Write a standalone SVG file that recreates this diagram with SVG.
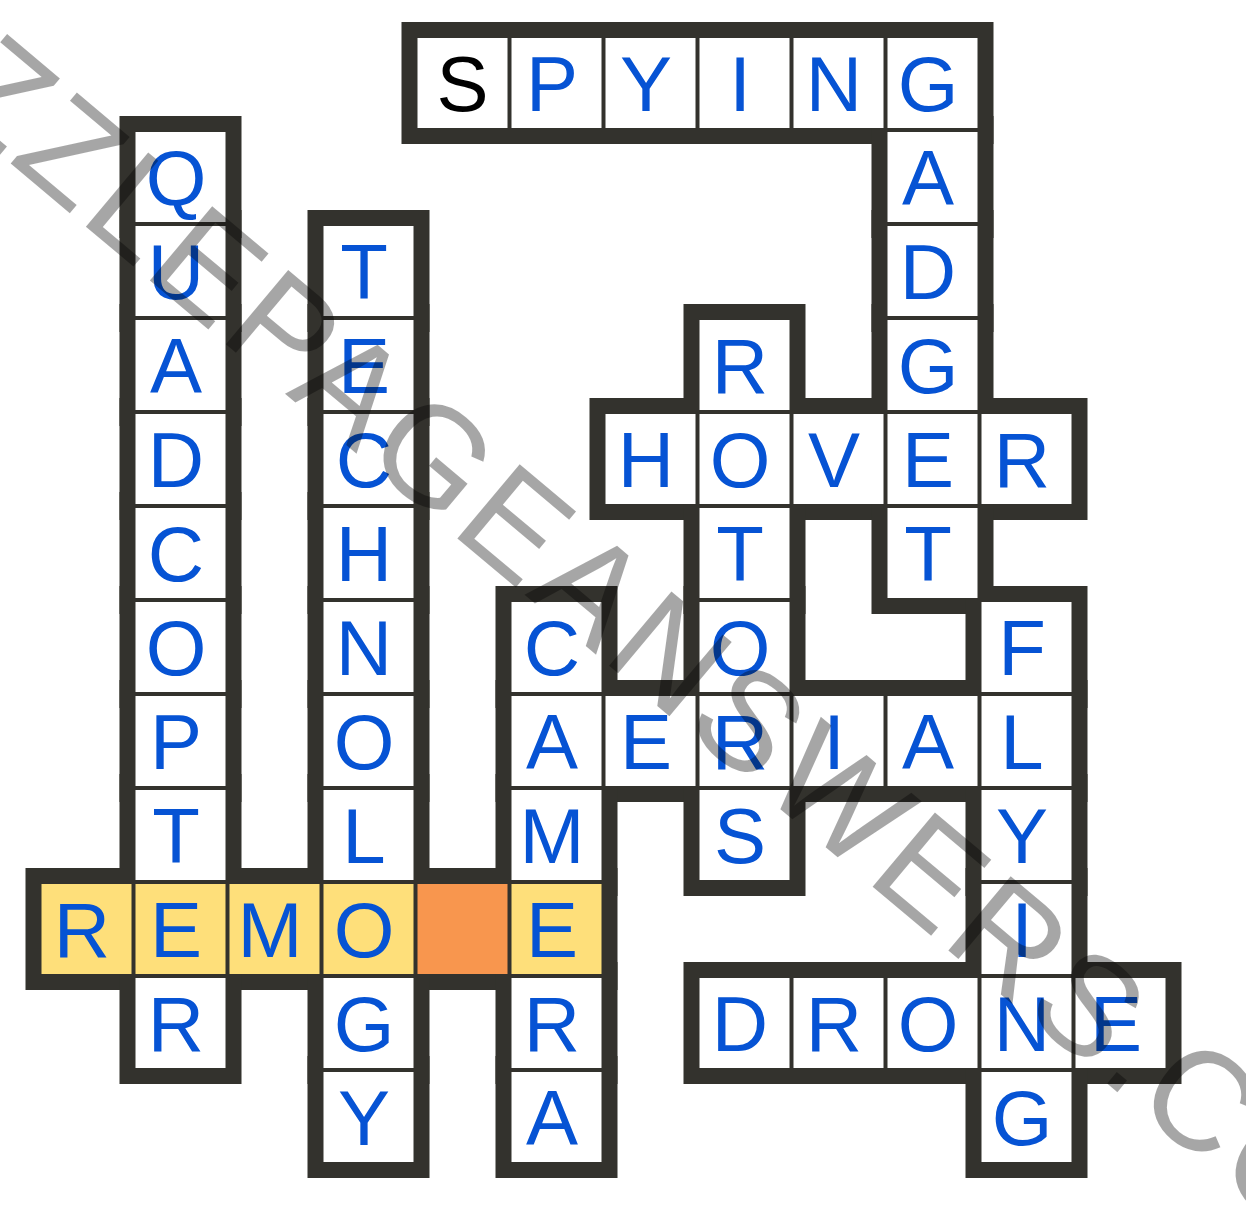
<svg xmlns="http://www.w3.org/2000/svg" width="1246" height="1219" viewBox="0 0 1246 1219">
<style>
.bd{fill:#33322d}
.w{fill:#ffffff}
.y{fill:#fedf7a}
.o{fill:#f8964e}
.t{font-family:"Liberation Sans",Arial,sans-serif;font-size:78px;fill:#0653d4;text-anchor:middle}
.k{fill:#000000}
.wm{font-family:"Liberation Sans",Arial,sans-serif;font-size:141px;letter-spacing:5px;fill:#000000;fill-opacity:0.35}
</style>
<rect x="0" y="0" width="1246" height="1219" fill="#ffffff"/>
<g id="grid-border">
<rect class="bd" x="401.5" y="22" width="592" height="122"/>
<rect class="bd" x="119.5" y="116" width="122" height="122"/>
<rect class="bd" x="871.5" y="116" width="122" height="122"/>
<rect class="bd" x="119.5" y="210" width="122" height="122"/>
<rect class="bd" x="307.5" y="210" width="122" height="122"/>
<rect class="bd" x="871.5" y="210" width="122" height="122"/>
<rect class="bd" x="119.5" y="304" width="122" height="122"/>
<rect class="bd" x="307.5" y="304" width="122" height="122"/>
<rect class="bd" x="683.5" y="304" width="122" height="122"/>
<rect class="bd" x="871.5" y="304" width="122" height="122"/>
<rect class="bd" x="119.5" y="398" width="122" height="122"/>
<rect class="bd" x="307.5" y="398" width="122" height="122"/>
<rect class="bd" x="589.5" y="398" width="498" height="122"/>
<rect class="bd" x="119.5" y="492" width="122" height="122"/>
<rect class="bd" x="307.5" y="492" width="122" height="122"/>
<rect class="bd" x="683.5" y="492" width="122" height="122"/>
<rect class="bd" x="871.5" y="492" width="122" height="122"/>
<rect class="bd" x="119.5" y="586" width="122" height="122"/>
<rect class="bd" x="307.5" y="586" width="122" height="122"/>
<rect class="bd" x="495.5" y="586" width="122" height="122"/>
<rect class="bd" x="683.5" y="586" width="122" height="122"/>
<rect class="bd" x="965.5" y="586" width="122" height="122"/>
<rect class="bd" x="119.5" y="680" width="122" height="122"/>
<rect class="bd" x="307.5" y="680" width="122" height="122"/>
<rect class="bd" x="495.5" y="680" width="592" height="122"/>
<rect class="bd" x="119.5" y="774" width="122" height="122"/>
<rect class="bd" x="307.5" y="774" width="122" height="122"/>
<rect class="bd" x="495.5" y="774" width="122" height="122"/>
<rect class="bd" x="683.5" y="774" width="122" height="122"/>
<rect class="bd" x="965.5" y="774" width="122" height="122"/>
<rect class="bd" x="25.5" y="868" width="592" height="122"/>
<rect class="bd" x="965.5" y="868" width="122" height="122"/>
<rect class="bd" x="119.5" y="962" width="122" height="122"/>
<rect class="bd" x="307.5" y="962" width="122" height="122"/>
<rect class="bd" x="495.5" y="962" width="122" height="122"/>
<rect class="bd" x="683.5" y="962" width="498" height="122"/>
<rect class="bd" x="307.5" y="1056" width="122" height="122"/>
<rect class="bd" x="495.5" y="1056" width="122" height="122"/>
<rect class="bd" x="965.5" y="1056" width="122" height="122"/>
</g>
<g id="connectors"></g>
<g id="r0c4" transform="translate(415.5,36)"><rect class="w" x="2" y="2" width="90" height="90"/><text class="t k" x="47" y="75">S</text></g>
<g id="r0c5" transform="translate(509.5,36)"><rect class="w" x="2" y="2" width="90" height="90"/><text class="t" x="42.5" y="75">P</text></g>
<g id="r0c6" transform="translate(603.5,36)"><rect class="w" x="2" y="2" width="90" height="90"/><text class="t" x="42.5" y="75">Y</text></g>
<g id="r0c7" transform="translate(697.5,36)"><rect class="w" x="2" y="2" width="90" height="90"/><text class="t" x="42.5" y="75">I</text></g>
<g id="r0c8" transform="translate(791.5,36)"><rect class="w" x="2" y="2" width="90" height="90"/><text class="t" x="42.5" y="75">N</text></g>
<g id="r0c9" transform="translate(885.5,36)"><rect class="w" x="2" y="2" width="90" height="90"/><text class="t" x="42.5" y="75">G</text></g>
<g id="r1c1" transform="translate(133.5,130)"><rect class="w" x="2" y="2" width="90" height="90"/><text class="t" x="42.5" y="75">Q</text></g>
<g id="r1c9" transform="translate(885.5,130)"><rect class="w" x="2" y="2" width="90" height="90"/><text class="t" x="42.5" y="75">A</text></g>
<g id="r2c1" transform="translate(133.5,224)"><rect class="w" x="2" y="2" width="90" height="90"/><text class="t" x="42.5" y="75">U</text></g>
<g id="r2c3" transform="translate(321.5,224)"><rect class="w" x="2" y="2" width="90" height="90"/><text class="t" x="42.5" y="75">T</text></g>
<g id="r2c9" transform="translate(885.5,224)"><rect class="w" x="2" y="2" width="90" height="90"/><text class="t" x="42.5" y="75">D</text></g>
<g id="r3c1" transform="translate(133.5,318)"><rect class="w" x="2" y="2" width="90" height="90"/><text class="t" x="42.5" y="75">A</text></g>
<g id="r3c3" transform="translate(321.5,318)"><rect class="w" x="2" y="2" width="90" height="90"/><text class="t" x="42.5" y="75">E</text></g>
<g id="r3c7" transform="translate(697.5,318)"><rect class="w" x="2" y="2" width="90" height="90"/><text class="t" x="42.5" y="75">R</text></g>
<g id="r3c9" transform="translate(885.5,318)"><rect class="w" x="2" y="2" width="90" height="90"/><text class="t" x="42.5" y="75">G</text></g>
<g id="r4c1" transform="translate(133.5,412)"><rect class="w" x="2" y="2" width="90" height="90"/><text class="t" x="42.5" y="75">D</text></g>
<g id="r4c3" transform="translate(321.5,412)"><rect class="w" x="2" y="2" width="90" height="90"/><text class="t" x="42.5" y="75">C</text></g>
<g id="r4c6" transform="translate(603.5,412)"><rect class="w" x="2" y="2" width="90" height="90"/><text class="t" x="42.5" y="75">H</text></g>
<g id="r4c7" transform="translate(697.5,412)"><rect class="w" x="2" y="2" width="90" height="90"/><text class="t" x="42.5" y="75">O</text></g>
<g id="r4c8" transform="translate(791.5,412)"><rect class="w" x="2" y="2" width="90" height="90"/><text class="t" x="42.5" y="75">V</text></g>
<g id="r4c9" transform="translate(885.5,412)"><rect class="w" x="2" y="2" width="90" height="90"/><text class="t" x="42.5" y="75">E</text></g>
<g id="r4c10" transform="translate(979.5,412)"><rect class="w" x="2" y="2" width="90" height="90"/><text class="t" x="42.5" y="75">R</text></g>
<g id="r5c1" transform="translate(133.5,506)"><rect class="w" x="2" y="2" width="90" height="90"/><text class="t" x="42.5" y="75">C</text></g>
<g id="r5c3" transform="translate(321.5,506)"><rect class="w" x="2" y="2" width="90" height="90"/><text class="t" x="42.5" y="75">H</text></g>
<g id="r5c7" transform="translate(697.5,506)"><rect class="w" x="2" y="2" width="90" height="90"/><text class="t" x="42.5" y="75">T</text></g>
<g id="r5c9" transform="translate(885.5,506)"><rect class="w" x="2" y="2" width="90" height="90"/><text class="t" x="42.5" y="75">T</text></g>
<g id="r6c1" transform="translate(133.5,600)"><rect class="w" x="2" y="2" width="90" height="90"/><text class="t" x="42.5" y="75">O</text></g>
<g id="r6c3" transform="translate(321.5,600)"><rect class="w" x="2" y="2" width="90" height="90"/><text class="t" x="42.5" y="75">N</text></g>
<g id="r6c5" transform="translate(509.5,600)"><rect class="w" x="2" y="2" width="90" height="90"/><text class="t" x="42.5" y="75">C</text></g>
<g id="r6c7" transform="translate(697.5,600)"><rect class="w" x="2" y="2" width="90" height="90"/><text class="t" x="42.5" y="75">O</text></g>
<g id="r6c10" transform="translate(979.5,600)"><rect class="w" x="2" y="2" width="90" height="90"/><text class="t" x="42.5" y="75">F</text></g>
<g id="r7c1" transform="translate(133.5,694)"><rect class="w" x="2" y="2" width="90" height="90"/><text class="t" x="42.5" y="75">P</text></g>
<g id="r7c3" transform="translate(321.5,694)"><rect class="w" x="2" y="2" width="90" height="90"/><text class="t" x="42.5" y="75">O</text></g>
<g id="r7c5" transform="translate(509.5,694)"><rect class="w" x="2" y="2" width="90" height="90"/><text class="t" x="42.5" y="75">A</text></g>
<g id="r7c6" transform="translate(603.5,694)"><rect class="w" x="2" y="2" width="90" height="90"/><text class="t" x="42.5" y="75">E</text></g>
<g id="r7c7" transform="translate(697.5,694)"><rect class="w" x="2" y="2" width="90" height="90"/><text class="t" x="42.5" y="75">R</text></g>
<g id="r7c8" transform="translate(791.5,694)"><rect class="w" x="2" y="2" width="90" height="90"/><text class="t" x="42.5" y="75">I</text></g>
<g id="r7c9" transform="translate(885.5,694)"><rect class="w" x="2" y="2" width="90" height="90"/><text class="t" x="42.5" y="75">A</text></g>
<g id="r7c10" transform="translate(979.5,694)"><rect class="w" x="2" y="2" width="90" height="90"/><text class="t" x="42.5" y="75">L</text></g>
<g id="r8c1" transform="translate(133.5,788)"><rect class="w" x="2" y="2" width="90" height="90"/><text class="t" x="42.5" y="75">T</text></g>
<g id="r8c3" transform="translate(321.5,788)"><rect class="w" x="2" y="2" width="90" height="90"/><text class="t" x="42.5" y="75">L</text></g>
<g id="r8c5" transform="translate(509.5,788)"><rect class="w" x="2" y="2" width="90" height="90"/><text class="t" x="42.5" y="75">M</text></g>
<g id="r8c7" transform="translate(697.5,788)"><rect class="w" x="2" y="2" width="90" height="90"/><text class="t" x="42.5" y="75">S</text></g>
<g id="r8c10" transform="translate(979.5,788)"><rect class="w" x="2" y="2" width="90" height="90"/><text class="t" x="42.5" y="75">Y</text></g>
<g id="r9c0" transform="translate(39.5,882)"><rect class="y" x="2" y="2" width="90" height="90"/><text class="t" x="42.5" y="75">R</text></g>
<g id="r9c1" transform="translate(133.5,882)"><rect class="y" x="2" y="2" width="90" height="90"/><text class="t" x="42.5" y="75">E</text></g>
<g id="r9c2" transform="translate(227.5,882)"><rect class="y" x="2" y="2" width="90" height="90"/><text class="t" x="42.5" y="75">M</text></g>
<g id="r9c3" transform="translate(321.5,882)"><rect class="y" x="2" y="2" width="90" height="90"/><text class="t" x="42.5" y="75">O</text></g>
<g id="r9c4" transform="translate(415.5,882)"><rect class="o" x="2" y="2" width="90" height="90"/></g>
<g id="r9c5" transform="translate(509.5,882)"><rect class="y" x="2" y="2" width="90" height="90"/><text class="t" x="42.5" y="75">E</text></g>
<g id="r9c10" transform="translate(979.5,882)"><rect class="w" x="2" y="2" width="90" height="90"/><text class="t" x="42.5" y="75">I</text></g>
<g id="r10c1" transform="translate(133.5,976)"><rect class="w" x="2" y="2" width="90" height="90"/><text class="t" x="42.5" y="75">R</text></g>
<g id="r10c3" transform="translate(321.5,976)"><rect class="w" x="2" y="2" width="90" height="90"/><text class="t" x="42.5" y="75">G</text></g>
<g id="r10c5" transform="translate(509.5,976)"><rect class="w" x="2" y="2" width="90" height="90"/><text class="t" x="42.5" y="75">R</text></g>
<g id="r10c7" transform="translate(697.5,976)"><rect class="w" x="2" y="2" width="90" height="90"/><text class="t" x="42.5" y="75">D</text></g>
<g id="r10c8" transform="translate(791.5,976)"><rect class="w" x="2" y="2" width="90" height="90"/><text class="t" x="42.5" y="75">R</text></g>
<g id="r10c9" transform="translate(885.5,976)"><rect class="w" x="2" y="2" width="90" height="90"/><text class="t" x="42.5" y="75">O</text></g>
<g id="r10c10" transform="translate(979.5,976)"><rect class="w" x="2" y="2" width="90" height="90"/><text class="t" x="42.5" y="75">N</text></g>
<g id="r10c11" transform="translate(1073.5,976)"><rect class="w" x="2" y="2" width="90" height="90"/><text class="t" x="42.5" y="75">E</text></g>
<g id="r11c3" transform="translate(321.5,1070)"><rect class="w" x="2" y="2" width="90" height="90"/><text class="t" x="42.5" y="75">Y</text></g>
<g id="r11c5" transform="translate(509.5,1070)"><rect class="w" x="2" y="2" width="90" height="90"/><text class="t" x="42.5" y="75">A</text></g>
<g id="r11c10" transform="translate(979.5,1070)"><rect class="w" x="2" y="2" width="90" height="90"/><text class="t" x="42.5" y="75">G</text></g>
<g id="watermark">
<text class="wm" transform="translate(-62.5,102.2) rotate(40)" x="0" y="0">ZZLEPAGEANSWERS.CO</text>
</g>
</svg>
